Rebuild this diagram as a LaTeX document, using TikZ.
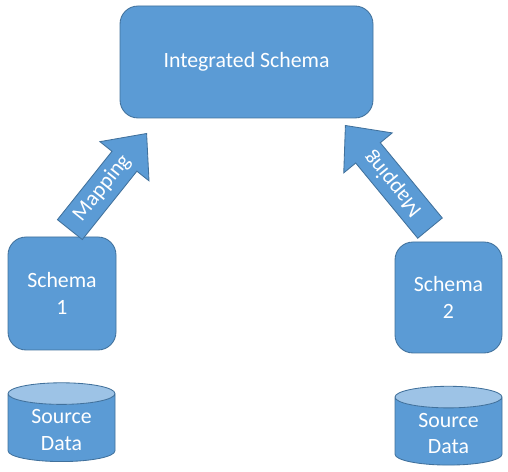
\documentclass[tikz,border=0pt]{standalone}
\usepackage{fontspec}
\setmainfont{Carlito}
\usepackage{xcolor}
\usetikzlibrary{shapes.geometric, shapes.arrows, positioning}

\definecolor{boxblue}{HTML}{5B9BD5}
\definecolor{boxedge}{HTML}{41719C}
\definecolor{toplight}{HTML}{9DC3E6}

\begin{document}
\begin{tikzpicture}[
    x=0.025cm, y=-0.025cm,
    font=\fontsize{15.5}{19}\selectfont,
    schemabox/.style={
        rectangle,
        rounded corners=0.45cm,
        draw=boxedge,
        fill=boxblue,
        text=white,
        line width=0.6pt,
        align=center
    },
    mapping/.style={
        single arrow,
        anchor=tip,
        draw=boxedge,
        fill=boxblue,
        text=white,
        line width=0.6pt,
        inner xsep=2pt, inner ysep=0pt,
        text height=20.5*\px, text depth=10.5*\px,
        single arrow head extend=15.5*\px,
        single arrow tip angle=83
    },
    store/.style={
        cylinder,
        shape border rotate=90,
        aspect=0.31,
        draw=boxedge,
        line width=0.6pt,
        cylinder uses custom fill,
        cylinder body fill=boxblue,
        cylinder end fill=toplight,
        text=white,
        align=center,
        minimum width=107*\px,
        minimum height=72*\px
    }
]
    % one pixel of the reference
    \def\px{0.025cm}
    \useasboundingbox (0,0) rectangle (508,472);

    % Schema boxes
    \node[schemabox, minimum width=253*\px, minimum height=112*\px] (integrated) at (246.5,62) {Integrated Schema};
    \node[schemabox, minimum width=108*\px, minimum height=113*\px] (schema1) at (62,293.5) {Schema\\1};
    \node[schemabox, minimum width=107*\px, minimum height=111*\px] (schema2) at (448.5,297.5) {Schema\\2};

    % Mapping arrows, placed by their tips
    \node[mapping, minimum height=123*\px, rotate=51.4] (map1) at (147,133) {Mapping};
    \node[mapping, minimum height=133*\px, rotate=129.5] (map2) at (345,125) {Mapping};

    % Source data stores
    \node[store] (data1) at (61.5,430) {Source\\Data};
    \node[store] (data2) at (448.5,433.5) {Source\\Data};

\end{tikzpicture}
\end{document}
